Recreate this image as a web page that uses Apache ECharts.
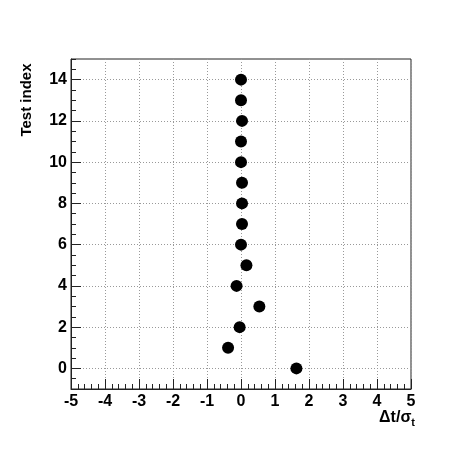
<!DOCTYPE html>
<html>
<head>
<meta charset="utf-8">
<script src="https://cdn.jsdelivr.net/npm/echarts@6/dist/echarts.min.js"></script>
<style>
html,body{margin:0;padding:0;background:#fff;}
#chart{width:474px;height:457px;}
</style>
</head>
<body>
<div id="chart"></div>
<script>
// Data
var testIndex = [0, 1, 2, 3, 4, 5, 6, 7, 8, 9, 10, 11, 12, 13, 14];
var deltaT = [1.63, -0.38, -0.04, 0.54, -0.13, 0.16, 0.0, 0.03, 0.03, 0.03, 0.0, 0.0, 0.03, 0.0, 0.0];
var yTickLabels = [0, 2, 4, 6, 8, 10, 12, 14];
var xTickLabels = [-5, -4, -3, -2, -1, 0, 1, 2, 3, 4, 5];

var FONT = "'Liberation Sans', Arial, sans-serif";
var points = testIndex.map(function (t, i) { return [deltaT[i], t]; });

var chart = echarts.init(document.getElementById('chart'), null, {renderer: 'canvas'});
chart.setOption({
  animation: false,
  backgroundColor: '#fff',
  grid: {
    left: 71, right: 63, top: 59, bottom: 68,
    show: true, borderColor: '#222', borderWidth: 1, backgroundColor: 'transparent'
  },
  xAxis: {
    type: 'value',
    min: -5, max: 5, interval: 1,
    axisLine: {show: true, onZero: false, lineStyle: {color: '#222', width: 1}},
    axisTick: {show: true, inside: true, length: 10, lineStyle: {color: '#222'}},
    minorTick: {show: true, splitNumber: 5, length: 5, lineStyle: {color: '#222'}},
    splitLine: {show: true, lineStyle: {color: '#999', type: [1, 2], width: 1}},
    axisLabel: {
      margin: 5, color: '#000', fontSize: 16, fontWeight: 'bold', fontFamily: FONT,
      customValues: xTickLabels
    }
  },
  yAxis: [
    {
      type: 'value',
      min: -1, max: 15, interval: 1,
      position: 'left',
      axisLine: {show: true, onZero: false, lineStyle: {color: '#222', width: 1}},
      axisTick: {show: true, inside: true, length: 10, lineStyle: {color: '#222'}, customValues: yTickLabels},
      splitLine: {show: true, lineStyle: {color: '#999', type: [1, 2], width: 1}, customValues: yTickLabels},
      axisLabel: {
        margin: 4, color: '#000', fontSize: 16, fontWeight: 'bold', fontFamily: FONT,
        customValues: yTickLabels
      }
    },
    {
      type: 'value',
      min: -1, max: 15, interval: 0.5,
      position: 'left', offset: 0,
      axisLine: {show: false, onZero: false},
      axisTick: {show: true, inside: true, length: 5, lineStyle: {color: '#222'}},
      splitLine: {show: false},
      axisLabel: {show: false}
    }
  ],
  graphic: [
    {
      type: 'text',
      x: 27, y: 100,
      rotation: Math.PI / 2,
      style: {
        text: 'Test index',
        font: 'bold 15px ' + FONT,
        fill: '#000',
        align: 'center',
        verticalAlign: 'middle'
      }
    },
    {
      type: 'text',
      x: 415, y: 410,
      style: {
        text: '{a|\u0394t/\u03c3}{s|t}',
        align: 'right',
        verticalAlign: 'top',
        rich: {
          a: {fontSize: 16, fontWeight: 'bold', fontFamily: FONT, fill: '#000', lineHeight: 18, verticalAlign: 'top'},
          s: {fontSize: 11, fontWeight: 'bold', fontFamily: FONT, fill: '#000', lineHeight: 11, padding: [12, 0, 0, 0], verticalAlign: 'bottom'}
        }
      }
    }
  ],
  series: [
    {
      type: 'scatter',
      xAxisIndex: 0, yAxisIndex: 0,
      data: points,
      symbol: 'circle',
      symbolSize: 12,
      itemStyle: {color: '#000', opacity: 1}
    }
  ]
});
</script>
</body>
</html>
